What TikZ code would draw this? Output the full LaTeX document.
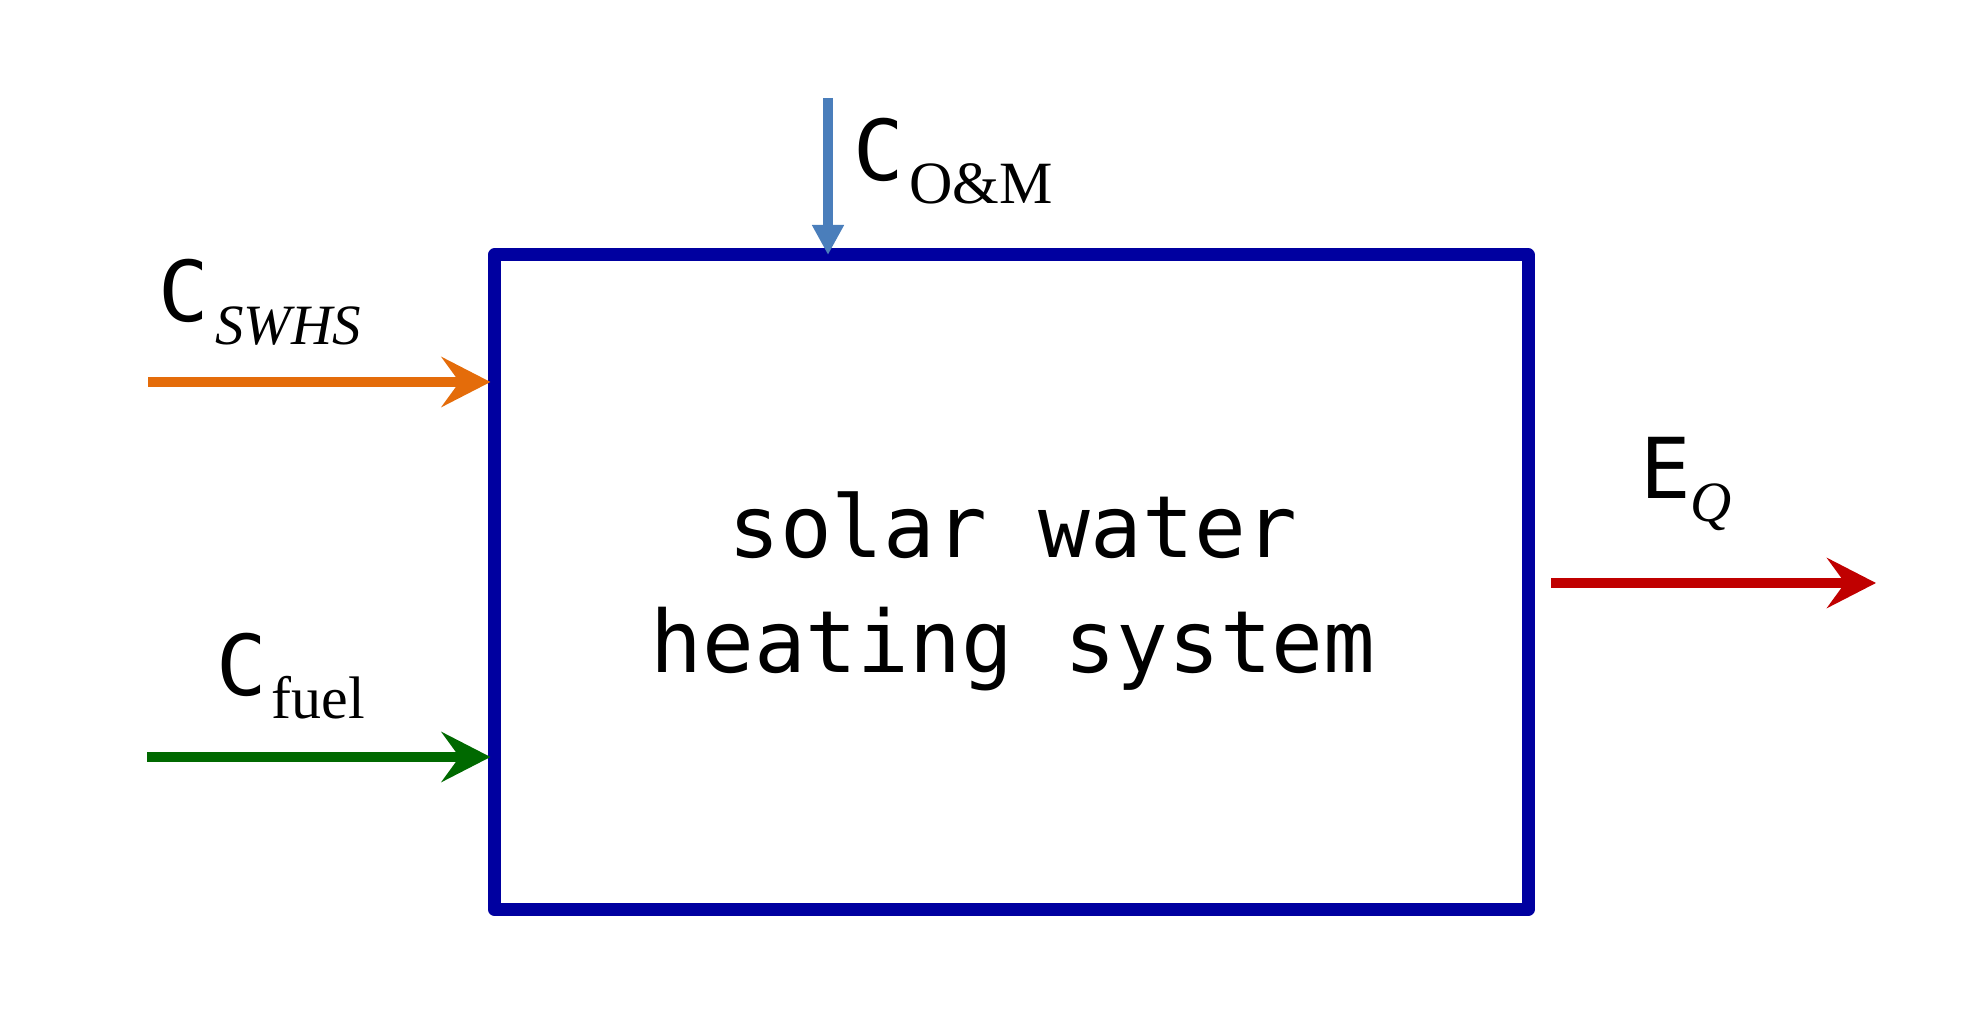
\documentclass[tikz,border=0pt]{standalone}
\usepackage{fontspec}
\setmonofont{DejaVu Sans Mono}
\newfontfamily\tnr{Liberation Serif}
\usetikzlibrary{arrows.meta}
\definecolor{boxblue}{RGB}{0,0,160}
\definecolor{omblue}{RGB}{74,126,187}
\definecolor{arrorange}{RGB}{228,108,10}
\definecolor{arrgreen}{RGB}{0,105,0}
\definecolor{arrred}{RGB}{192,0,0}
\newcommand\subup[1]{\kern2.5pt\raisebox{-11.5pt}{\fontsize{30pt}{30pt}\selectfont\tnr #1}}
\newcommand\subit[2][0pt]{\kern#1\raisebox{-11.5pt}{\fontsize{28.5pt}{28.5pt}\selectfont\tnr\itshape #2}}
\begin{document}
\begin{tikzpicture}[x=0.5pt,y=-0.5pt,
  sysbox/.style={draw=boxblue,line width=6.5pt,line join=round,inner sep=0pt,outer sep=0pt,
    minimum width=516.75pt,minimum height=327.25pt},
  maintext/.style={inner sep=0pt,anchor=base,font=\fontsize{43pt}{43pt}\selectfont\ttfamily},
  lab/.style={inner sep=0pt,anchor=base west,font=\fontsize{42pt}{42pt}\selectfont\ttfamily},
  bigarr/.style={line width=5pt,-{Stealth[length=24.5pt,width=25pt,inset=9pt]}},
  omarr/.style={draw=omblue,line width=5pt,-{Triangle[length=15pt,width=15pt]}}]
\useasboundingbox (0,0) rectangle (1964,1020);
\node[sysbox] (sys) at (1011.25,582.25) {};
\node[maintext] (t1) at (1013,558) {solar water};
\node[maintext] (t2) at (1013,673) {heating system};
% labels
\node[lab] (lom) at (853.5,181) {C\subup{O\&M}};
\node[lab] (lswhs) at (158.5,322) {C\subit[3pt]{SWHS}};
\node[lab] (lfuel) at (216,696) {C\subup{fuel}};
\node[lab] (leq) at (1640,499) {E\subit{Q}};
% connectors
\coordinate (b1) at (828,98);
\coordinate (o1) at (148,382);
\coordinate (g1) at (147,757);
\coordinate (r1) at (1551,583);
\coordinate (r2) at (1876,583);
\draw[omarr] (b1) -- (b1 |- sys.north);
\draw[bigarr,draw=arrorange,shorten >=2pt] (o1) -- (o1 -| sys.west);
\draw[bigarr,draw=arrgreen,shorten >=2pt] (g1) -- (g1 -| sys.west);
\draw[bigarr,draw=arrred] (r1) -- (r2);
\end{tikzpicture}
\end{document}
